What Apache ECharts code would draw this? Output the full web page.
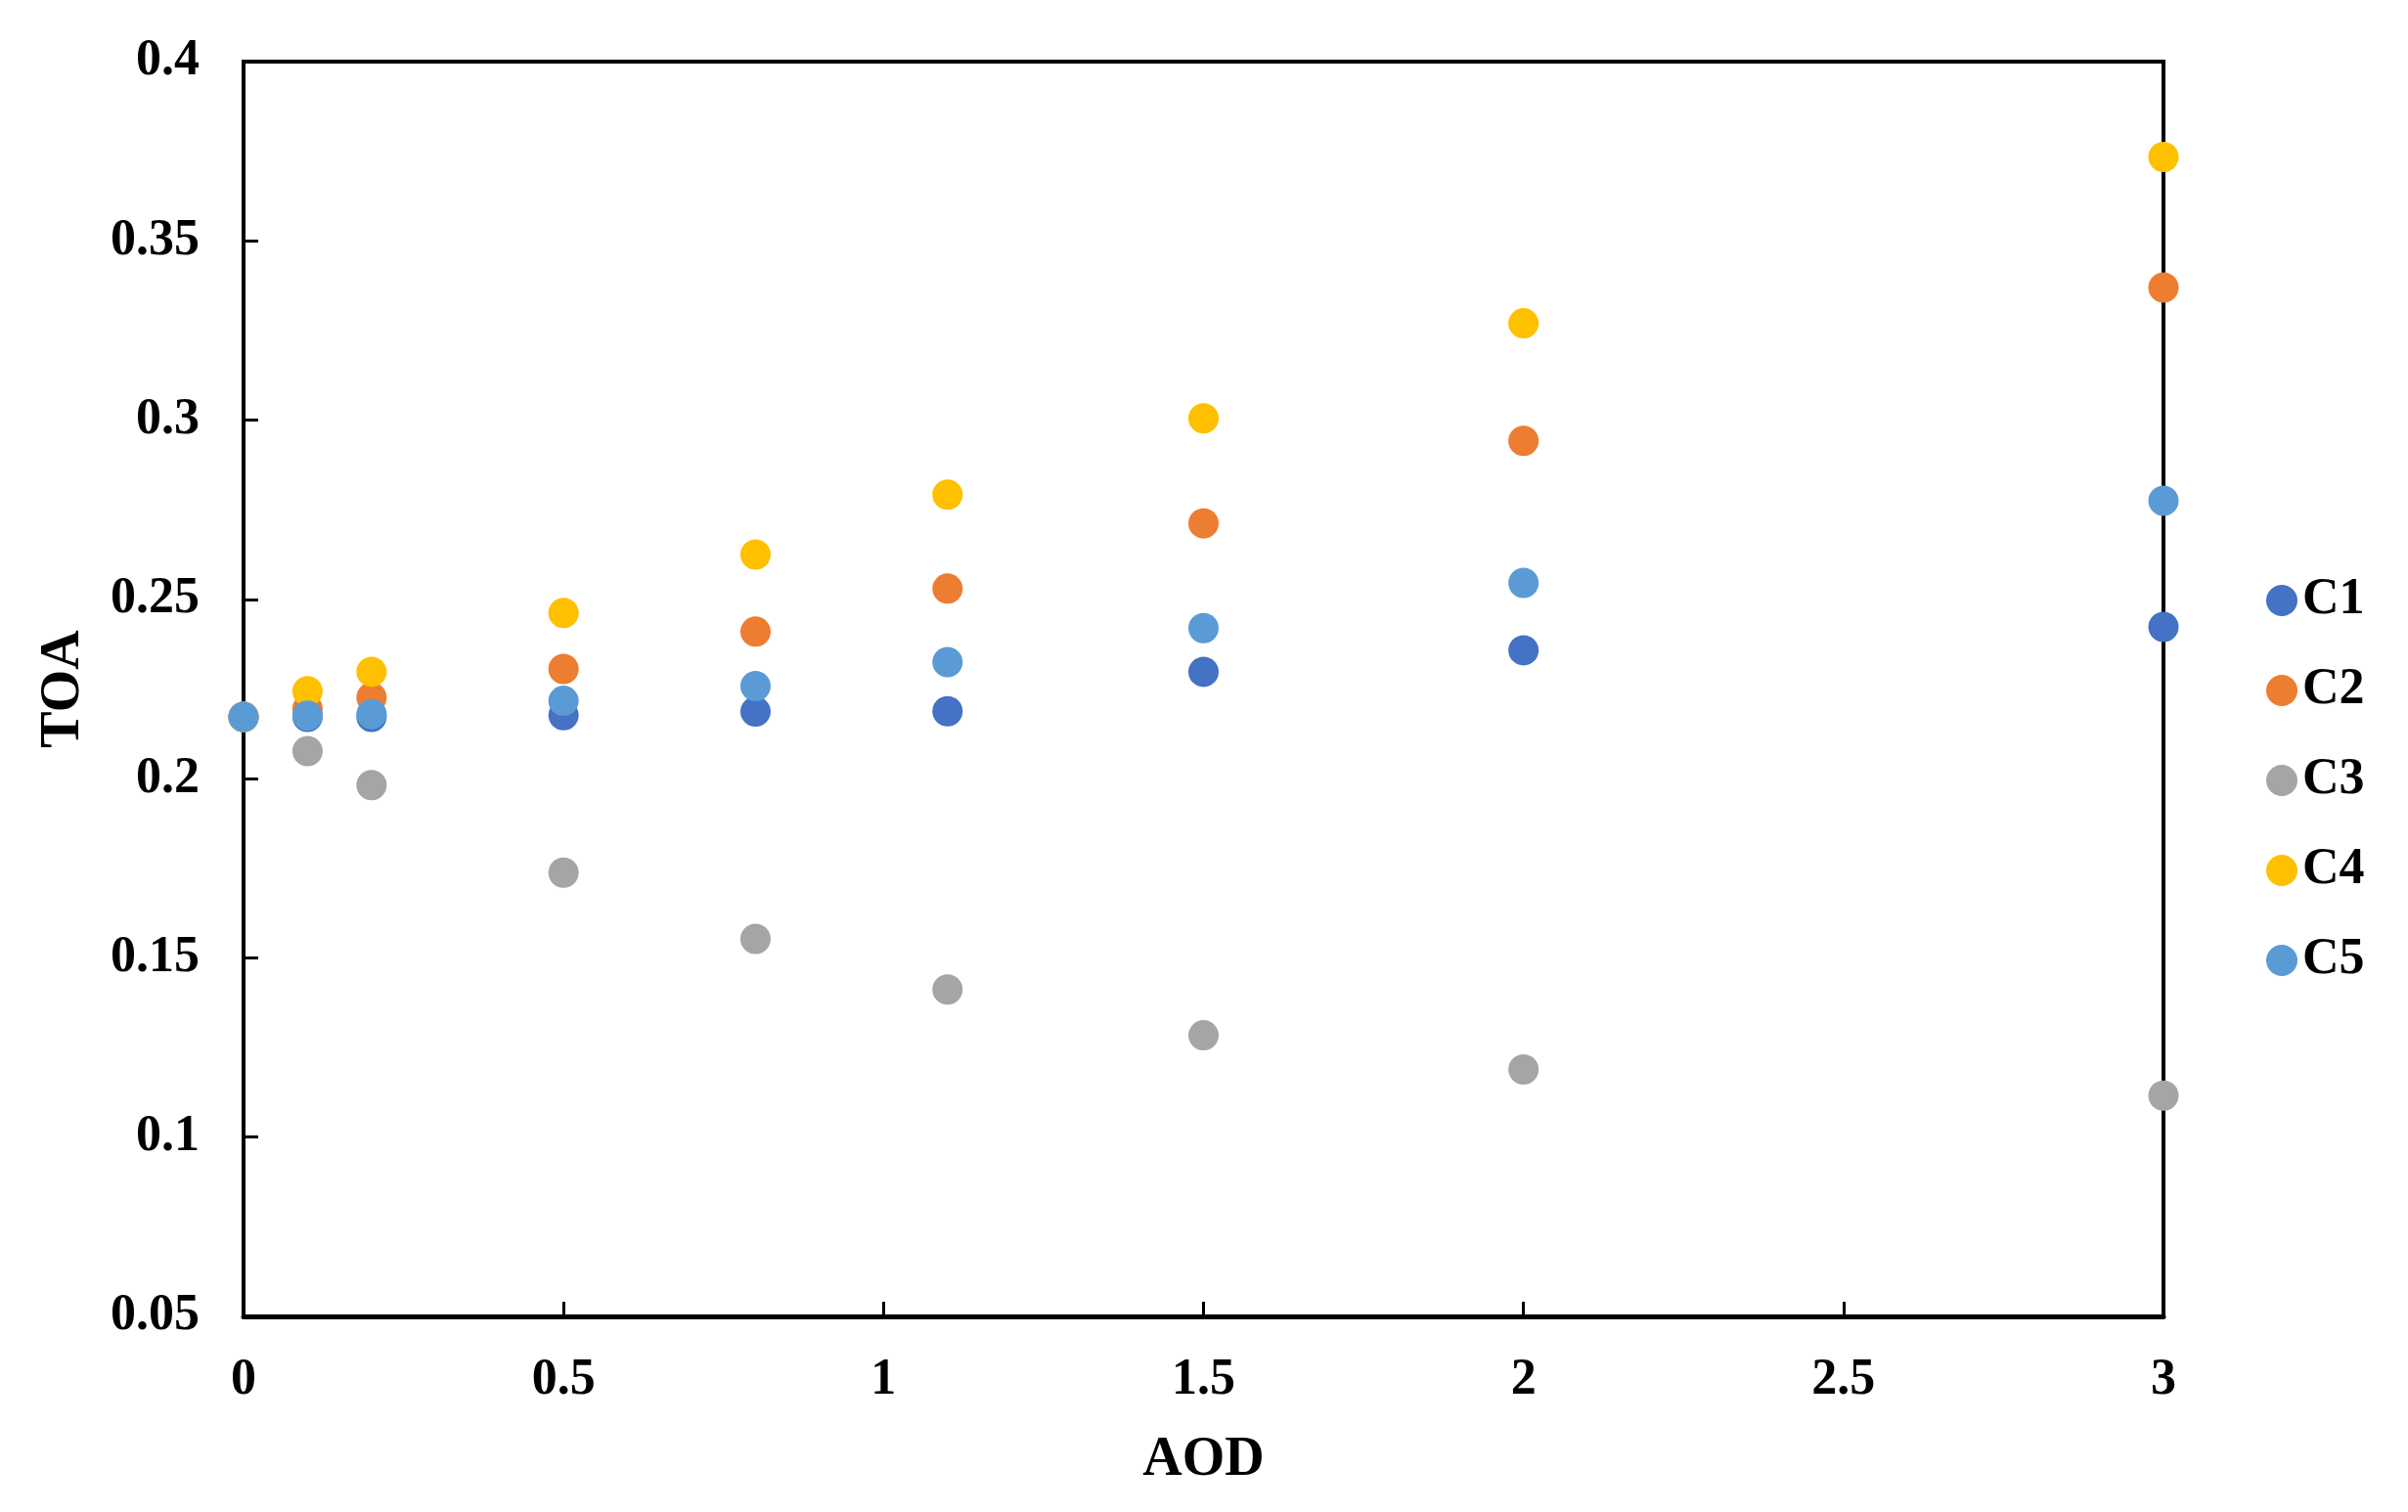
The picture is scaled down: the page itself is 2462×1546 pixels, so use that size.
<!DOCTYPE html>
<html>
<head>
<meta charset="utf-8">
<title>TOA vs AOD</title>
<script src="https://cdn.jsdelivr.net/npm/echarts@6/dist/echarts.min.js"></script>
<style>
  html, body { margin: 0; padding: 0; background: #fff; }
  #toa-chart { width: 2462px; height: 1546px; }
</style>
</head>
<body>
<div id="toa-chart"></div>
<script>
var aod = [0, 0.1, 0.2, 0.5, 0.8, 1.1, 1.5, 2, 3];
var c1 = [0.2172, 0.2172, 0.2172, 0.2177, 0.2187, 0.2188, 0.2298, 0.2358, 0.2423];
var c2 = [0.2172, 0.2195, 0.2226, 0.2306, 0.241, 0.253, 0.2712, 0.2942, 0.337];
var c3 = [0.2172, 0.2077, 0.1982, 0.1738, 0.1553, 0.1412, 0.1284, 0.1189, 0.1116];
var c4 = [0.2172, 0.2244, 0.2298, 0.2462, 0.2625, 0.2792, 0.3005, 0.327, 0.3734];
var c5 = [0.2172, 0.2176, 0.2180, 0.2217, 0.2258, 0.2325, 0.242, 0.2546, 0.2775];

var seriesNames = ['C1', 'C2', 'C3', 'C4', 'C5'];
var seriesValues = [c1, c2, c3, c4, c5];
var colors = ['#4472C4', '#ED7D31', '#A5A5A5', '#FFC000', '#5B9BD5'];

var font = "'Liberation Serif', 'Times New Roman', serif";

var series = [];
for (var i = 0; i < seriesNames.length; i++) {
  var pts = [];
  for (var j = 0; j < aod.length; j++) {
    pts.push([aod[j], seriesValues[i][j]]);
  }
  series.push({
    name: seriesNames[i],
    type: 'scatter',
    data: pts,
    symbol: 'circle',
    symbolSize: 31,
    itemStyle: { color: colors[i], opacity: 1 }
  });
}

var chart = echarts.init(document.getElementById('toa-chart'));
var option = {
  backgroundColor: '#fff',
  animation: false,
  grid: {
    left: 249,
    right: 250,
    top: 63,
    bottom: 200,
    show: true,
    borderColor: '#000',
    borderWidth: 4
  },
  legend: {
    orient: 'vertical',
    left: 2312,
    top: 583,
    itemWidth: 32,
    itemHeight: 32,
    itemGap: 40,
    icon: 'circle',
    data: seriesNames,
    textStyle: {
      fontFamily: font,
      fontWeight: 'bold',
      fontSize: 52,
      lineHeight: 52,
      color: '#000'
    }
  },
  xAxis: {
    type: 'value',
    min: 0,
    max: 3,
    interval: 0.5,
    name: 'AOD',
    nameLocation: 'middle',
    nameGap: 120,
    nameTextStyle: { fontFamily: font, fontWeight: 'bold', fontSize: 56, color: '#000' },
    axisLine: { show: true, lineStyle: { color: '#000', width: 5 } },
    axisTick: { show: true, inside: true, length: 15, lineStyle: { color: '#000', width: 3 } },
    axisLabel: { margin: 40, fontFamily: font, fontWeight: 'bold', fontSize: 52, color: '#000' },
    splitLine: { show: false }
  },
  yAxis: {
    type: 'value',
    min: 0.05,
    max: 0.4,
    interval: 0.05,
    name: 'TOA',
    nameLocation: 'middle',
    nameGap: 155,
    nameTextStyle: { fontFamily: font, fontWeight: 'bold', fontSize: 56, color: '#000' },
    axisLine: { show: true, lineStyle: { color: '#000', width: 4 } },
    axisTick: { show: true, inside: true, length: 15, lineStyle: { color: '#000', width: 3 } },
    axisLabel: { margin: 45, fontFamily: font, fontWeight: 'bold', fontSize: 52, color: '#000' },
    splitLine: { show: false }
  },
  series: series
};

chart.setOption(option);
</script>
</body>
</html>
